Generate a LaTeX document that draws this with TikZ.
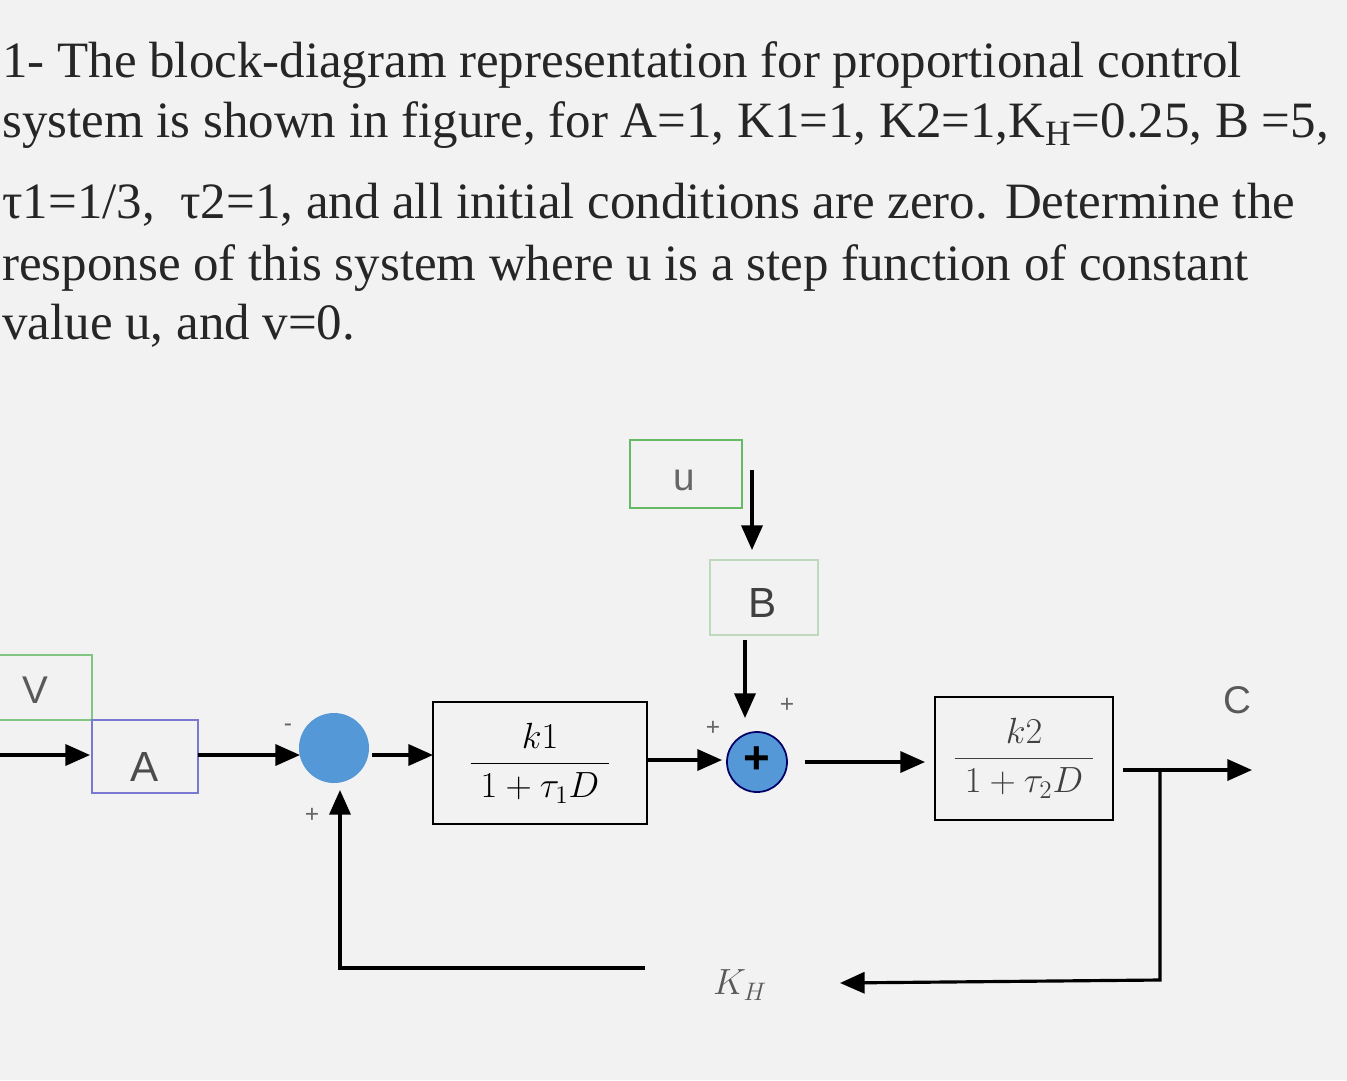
\documentclass[tikz,border=0pt]{standalone}
\usepackage{fontspec}
\setmainfont{Liberation Serif}
\setsansfont{Liberation Sans}
\usetikzlibrary{arrows.meta}
\begin{document}
\begin{tikzpicture}[x=0.02cm,y=-0.02cm,
  txt/.style={anchor=west,inner sep=0,font=\fontsize{29}{32}\selectfont,text=black!85},
  sig/.style={-{Triangle[length=14pt,width=12pt]},line width=1.8pt},
  sm/.style={font=\sffamily\fontsize{14}{16}\selectfont,text=black!60}]
\fill[gray!10] (0,0) rectangle (1347,1080);
\useasboundingbox (0,0) rectangle (1347,1080);
\node[txt] (l1) at (2,65) {1- The block-diagram representation for proportional control};
\node[txt] (l2) at (2,125) {system is shown in figure, for A=1, K1=1, K2=1,K\textsubscript{H}=0.25, B =5,};
\node[txt] (l3) at (2,205) {τ1=1/3, \ τ2=1, and all initial conditions are zero. Determine the};
\node[txt] (l4) at (2,268) {response of this system where u is a step function of constant};
\node[txt] (l5) at (2,326) {value u, and v=0.};
% blocks
\draw[green!55!black!60,line width=1.5pt] (630,440) rectangle (742,508);
\node[font=\sffamily\fontsize{22}{24}\selectfont,text=black!60] (ut) at (684,480) {u};
\draw[green!40!black!25,line width=1.5pt] (710,560) rectangle (818,635);
\node[font=\sffamily\fontsize{24}{26}\selectfont,text=black!75] (B) at (763,603) {B};
\draw[green!55!black!50,line width=1.5pt] (-2,655) rectangle (92,720);
\node[font=\sffamily\fontsize{22}{24}\selectfont,text=black!65] (V) at (35,690) {V};
\draw[blue!50!gray!70,line width=1.5pt] (92,720) rectangle (198,793);
\node[font=\sffamily\fontsize{24}{26}\selectfont,text=black!70] (A) at (145,767) {A};
\draw[line width=1.5pt] (433,702) rectangle (647,824);
\node[font=\fontsize{22}{24}\selectfont] (k1) at (540,763) {$\displaystyle\frac{k1}{\;1+\tau_1 D\;}$};
\draw[line width=1.5pt] (935,697) rectangle (1113,820);
\node[font=\fontsize{22}{24}\selectfont,text=black!75] (k2) at (1024,758) {$\displaystyle\frac{k2}{\;1+\tau_2 D\;}$};
\fill[cyan!60!blue!70] (334,748) circle (35);
\fill[cyan!60!blue!70] (757,762) circle (30);
\draw[blue!40!black,line width=1pt] (757,762) circle (30);
\node[font=\sffamily\bfseries\fontsize{26}{26}\selectfont] (plus) at (757,760) {+};
\node[font=\fontsize{22}{24}\selectfont,text=black!65] (KH) at (740,985) {$K_H$};
\node[font=\sffamily\fontsize{22}{24}\selectfont,text=black!65] (C) at (1237,700) {C};
% signs
\node[sm] (p1) at (787,705) {+};
\node[sm] (p2) at (713,728) {+};
\node[sm] (m1) at (288,728) {-};
\node[sm] (p3) at (312,815) {+};
% connectors
\coordinate (a0) at (0,755); \coordinate (a1) at (90,755);
\draw[sig] (a0) -- (a1);
\coordinate (b0) at (198,755); \coordinate (b1) at (300,755);
\draw[sig] (b0) -- (b1);
\coordinate (c0) at (372,755); \coordinate (c1) at (433,755);
\draw[sig] (c0) -- (c1);
\coordinate (d0) at (647,760); \coordinate (d1) at (722,760);
\draw[sig] (d0) -- (d1);
\coordinate (e0) at (805,762); \coordinate (e1) at (925,762);
\draw[sig] (e0) -- (e1);
\coordinate (f0) at (752,470); \coordinate (f1) at (752,550);
\draw[sig] (f0) -- (f1);
\coordinate (g0) at (745,640); \coordinate (g1) at (745,718);
\draw[sig] (g0) -- (g1);
\coordinate (h0) at (1123,770); \coordinate (h1) at (1252,770);
\draw[sig] (h0) -- (h1);
\coordinate (fb0) at (1160,770); \coordinate (fb1) at (1160,980); \coordinate (fb2) at (840,983);
\draw[sig] (fb0) -- (fb1) -- (fb2);
\coordinate (r0) at (645,968); \coordinate (r1) at (340,968); \coordinate (r2) at (340,790);
\draw[sig] (r0) -- (r1) -- (r2);
\end{tikzpicture}
\end{document}
